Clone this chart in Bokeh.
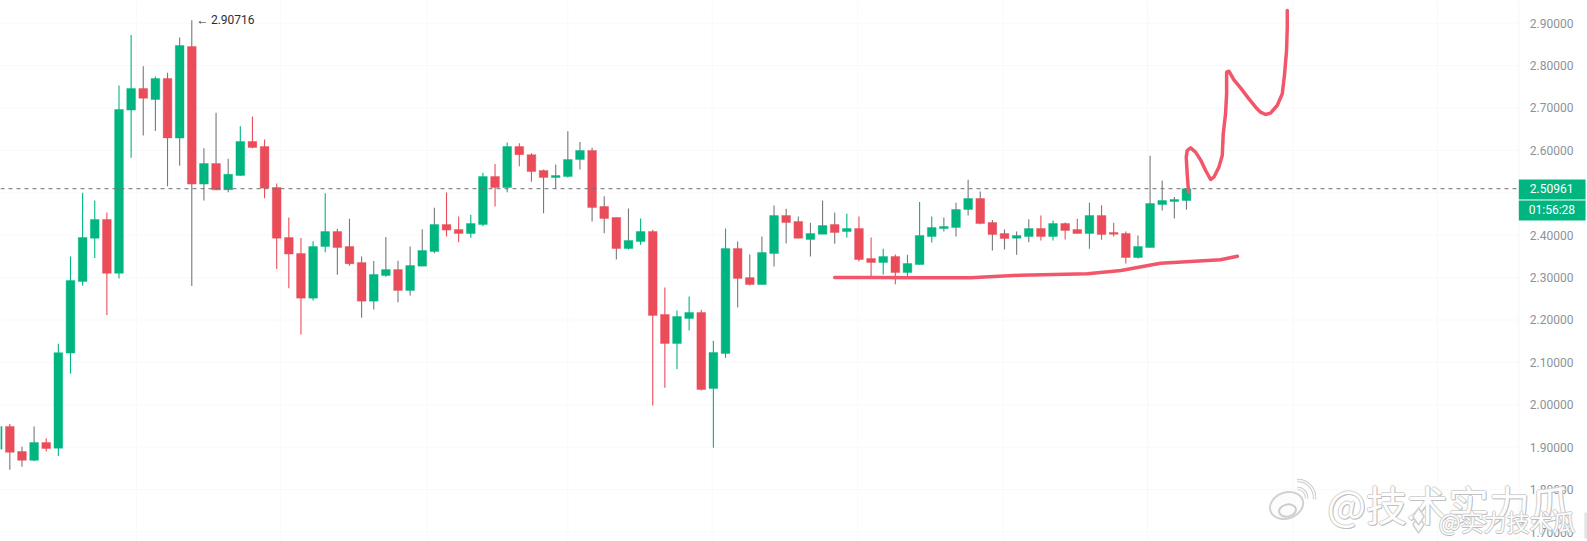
from bokeh.plotting import figure
from bokeh.embed import file_html
from bokeh.resources import INLINE
from bokeh.models import ColumnDataSource, Range1d
from bokeh.core.properties import value

G = "#01b581"; R = "#ea4c5a"; W = "#787878"; INK = "#f2566a"
candle_index = list(range(99))
body_top = [1.9488,1.949,1.890,1.911,1.911,2.123,2.293,2.3945,2.437,2.437,2.6965,2.746,2.746,2.7695,2.7695,2.8475,2.845,2.569,2.569,2.5435,2.621,2.621,2.609,2.5125,2.3945,2.357,2.3735,2.4085,2.4085,2.3735,2.3355,2.3073,2.319,2.319,2.3285,2.364,2.425,2.425,2.4135,2.4277,2.5385,2.5385,2.609,2.609,2.590,2.5526,2.5407,2.5786,2.5998,2.5998,2.4677,2.4417,2.3875,2.4087,2.4087,2.213,2.2083,2.2177,2.2177,2.1234,2.3687,2.3687,2.3,2.3592,2.4465,2.4465,2.4323,2.404,2.4228,2.4253,2.4158,2.4158,2.345,2.3497,2.3497,2.3333,2.3993,2.418,2.4205,2.4606,2.4865,2.4865,2.43,2.404,2.3993,2.4158,2.4158,2.4275,2.4275,2.4133,2.4464,2.4464,2.4063,2.404,2.3733,2.4747,2.4818,2.4843,2.50961]
body_bot = [1.8953,1.888,1.869,1.869,1.897,1.8977,2.122,2.291,2.393,2.310,2.310,2.695,2.723,2.72,2.6295,2.629,2.5205,2.5205,2.507,2.507,2.541,2.607,2.511,2.393,2.3555,2.2515,2.2515,2.3735,2.371,2.3325,2.2444,2.2444,2.305,2.2697,2.2697,2.327,2.3617,2.412,2.404,2.404,2.425,2.5125,2.5125,2.590,2.55,2.536,2.536,2.5385,2.5786,2.4653,2.4394,2.3686,2.3686,2.3852,2.2107,2.1446,2.1446,2.2036,2.0361,2.0385,2.121,2.2979,2.2837,2.2837,2.3569,2.43,2.393,2.39,2.4023,2.4063,2.4087,2.3426,2.3356,2.3356,2.312,2.312,2.3308,2.397,2.4158,2.418,2.4606,2.4275,2.4016,2.3922,2.393,2.397,2.397,2.397,2.411,2.404,2.404,2.4016,2.4023,2.3473,2.3473,2.3709,2.4723,2.4793,2.4818]
high = [1.955,1.955,1.901,1.949,1.921,2.144,2.350,2.500,2.482,2.4535,2.753,2.872,2.7985,2.774,2.783,2.866,2.90716,2.605,2.6885,2.580,2.657,2.68,2.6255,2.522,2.4415,2.3935,2.386,2.499,2.415,2.4385,2.35,2.339,2.3955,2.340,2.3734,2.414,2.465,2.5007,2.444,2.448,2.547,2.568,2.6187,2.617,2.593,2.555,2.5667,2.6454,2.62,2.606,2.492,2.4417,2.463,2.4394,2.413,2.2767,2.2224,2.2554,2.224,2.1509,2.4157,2.385,2.3545,2.397,2.47,2.4622,2.444,2.4291,2.4818,2.4535,2.4503,2.444,2.3945,2.3678,2.3545,2.3536,2.478,2.444,2.4417,2.4763,2.5305,2.503,2.436,2.4133,2.4087,2.4378,2.4463,2.4346,2.43,2.4386,2.4763,2.4708,2.4291,2.4087,2.3993,2.5871,2.529,2.4903,2.50961]
low = [1.88,1.847,1.854,1.867,1.890,1.879,2.073,2.281,2.3465,2.212,2.298,2.5825,2.635,2.646,2.5155,2.5635,2.280,2.482,2.506,2.501,2.540,2.605,2.487,2.3205,2.275,2.166,2.246,2.36,2.307,2.328,2.205,2.2247,2.302,2.242,2.258,2.327,2.3577,2.397,2.3836,2.3938,2.421,2.4677,2.5015,2.5628,2.526,2.452,2.509,2.536,2.555,2.4323,2.4048,2.3427,2.3663,2.3773,1.9984,2.04,2.0847,2.1752,2.0337,1.8985,2.1107,2.2295,2.2814,2.2837,2.3262,2.3804,2.392,2.3497,2.4023,2.3796,2.3945,2.3379,2.301,2.3073,2.2845,2.2986,2.3308,2.3827,2.4087,2.397,2.4464,2.426,2.3639,2.3663,2.3536,2.3835,2.3875,2.3875,2.39,2.404,2.3678,2.389,2.397,2.3333,2.345,2.3709,2.4583,2.4393,2.4598]
up = ("g r r g r g g g g r g g r g r g r g r g g r r r r r g g r r r g g r g g g r r g g r g r r r g g g r r r g g r r g g r g g r r g g r r g g r g r r g r g g g g g g r r r g g r g r r g r r r g g g g g").split()
wick = ("n n n n r g g g g r g g " "n n n n n n n n " "g r r r r r g g " "n n n n n n n n n " "r r g g r g r r " "n n n n n n n n " "g r r g g r g g " "n n n n n n n n n " "g r r g r g g g " "n n n n n n n n " "r g r r g r r r " "n n n n n").split()

ticks = [1.7,1.8,1.9,2.0,2.1,2.2,2.3,2.4,2.6,2.7,2.8,2.9]
tick_labels = ["1.70000","1.80000","1.90000","2.00000","2.10000","2.20000","2.30000","2.40000","2.60000","2.70000","2.80000","2.90000"]
grid_y = [1.7,1.8,1.9,2.0,2.1,2.2,2.3,2.4,2.5,2.6,2.7,2.8,2.9]
grid_x = [11.44,23.3,35.4,47.0,58.9,70.9,82.9,94.8,106.8,118.7]
last_price = 2.50961
hi_price = 2.90716
countdown = "01:56:28"

# hand-drawn strokes on the picture, as candle position / price
base_x = [69,72,76,80.2,84.3,89.84,92.6,95.86,100.8,102.2]
base_y = [2.3002,2.3002,2.2998,2.2995,2.3056,2.3089,2.3167,2.334,2.3419,2.3504]
jump_x = [98.17,98.06,97.98,98.06,98.34,98.75,99.16,99.58,99.99,100.26,100.67,100.95,101.03,101.22,101.31,101.31,101.5,101.91,102.46,103.15,103.7,104.11,104.52,104.93,105.48,105.9,106.09,106.25,106.31,106.31]
jump_y = [2.5015,2.5447,2.584,2.5997,2.606,2.5958,2.5777,2.5526,2.5313,2.5368,2.5604,2.5879,2.639,2.6862,2.7334,2.7845,2.7868,2.7664,2.7475,2.7216,2.7019,2.6901,2.6846,2.6878,2.7059,2.7334,2.7805,2.8356,2.8906,2.9299]

X_L, X_R, Y_T, Y_B = 0.2308, 131.06, 2.9535, 1.6776
AXIS_X = 125.4
TAG_R = 130.9

p = figure(width=1587, height=541, output_backend="svg", toolbar_location=None,
           x_range=Range1d(X_L, X_R), y_range=Range1d(Y_B, Y_T),
           min_border=0, outline_line_color=None, background_fill_color="white",
           x_axis_location=None, y_axis_location=None)
p.grid.visible = False

GRID = "#f9f9f9"
p.segment(grid_x, [Y_B]*len(grid_x), grid_x, [Y_T]*len(grid_x), line_color=GRID, line_width=1)
p.segment([X_L]*len(grid_y), grid_y, [AXIS_X]*len(grid_y), grid_y, line_color=GRID, line_width=1)
p.segment([AXIS_X], [Y_B], [AXIS_X], [Y_T], line_color="#f5f5f5", line_width=1)

col = {"g": G, "r": R, "n": W}
src = ColumnDataSource(dict(x=candle_index, top=body_top, bot=body_bot, hi=high, lo=low,
                            bc=[col[u] for u in up], wc=[col[w] for w in wick]))
p.segment("x", "hi", "x", "lo", source=src, line_color="wc", line_width=1.1)
p.vbar(x="x", top="top", bottom="bot", width=0.72, source=src, fill_color="bc", line_color="bc", line_width=0.4)

p.line([X_L, AXIS_X], [last_price, last_price], line_color="#707070", line_dash="4 4", line_width=1)

font = value("Roboto")
lab_x = 126.3
p.text([lab_x]*len(ticks), ticks, tick_labels, text_font=font, text_font_size="12px",
       text_color="#8d9298", text_baseline="middle")

# last-price tag
p.quad(left=[AXIS_X], right=[TAG_R], top=[2.5313], bottom=[2.4346], fill_color=G, line_color=None)
p.segment([AXIS_X], [2.4830], [TAG_R], [2.4830], line_color="white", line_width=1)
p.text([lab_x], [last_price], ["%.5f" % last_price], text_font=font, text_font_size="12px",
       text_color="white", text_baseline="middle")
p.text([lab_x - 0.08], [2.4589], [countdown], text_font=font, text_font_size="12px",
       text_color="white", text_baseline="middle")

p.line(base_x, base_y, line_color=INK, line_width=3.5, line_cap="round", line_join="round")
p.line(jump_x, jump_y, line_color=INK, line_width=3.5, line_cap="round", line_join="round")

p.text([16.39], [hi_price], ["\u2190\u2009%.5f" % hi_price], text_font=font, text_font_size="12px",
       text_color="#2a2e39", text_baseline="middle")

# Weibo-style logo of the watermark
p.ellipse([106.25], [1.7625], width=34, height=26, width_units="screen", height_units="screen", angle=0.35,
          fill_color="#fcfcfc", line_color="#d2d2d2", line_width=2)
p.ellipse([106.33], [1.7507], width=17, height=12, width_units="screen", height_units="screen", angle=0.2,
          fill_color="#fcfcfc", line_color="#cdcdcd", line_width=2)
p.arc([107.16, 107.16], [1.7813, 1.7813], radius=[9, 17], radius_units="screen", start_angle=-0.1, end_angle=1.6,
      line_color="#cccccc", line_width=3.5)
p.arc([107.16, 107.16], [1.7813, 1.7813], radius=[9, 17], radius_units="screen", start_angle=-0.1, end_angle=1.6,
      line_color="#fbfbfb", line_width=1.5)

# watermark text
wm = value("Noto Sans CJK SC")
for dx, dy, c in [(-1, 0, "#d4d4d4"), (1, 0, "#d4d4d4"), (0, -1, "#d4d4d4"), (0, 1, "#c8c8c8"), (1, 1, "#c0c0c0"), (0, 0, "#fdfdfd")]:
    p.text([109.6], [1.7684], ["@\u6280\u672f\u5b9e\u529b\u74dc"], x_offset=dx, y_offset=dy, text_font=wm,
           text_font_size="41px", text_color=c, text_baseline="middle")

# small diamond mark
p.scatter([117.13], [1.7177], marker="diamond", size=17, fill_color="#fdfdfd", line_color="#d0d0d0", line_width=1.5)
p.scatter([117.13], [1.7365], marker="diamond", size=17, fill_color="#fdfdfd", line_color="#d0d0d0", line_width=1.5)

for dx, dy, c in [(-1, 0, "#cfcfcf"), (1, 0, "#cfcfcf"), (0, -1, "#cfcfcf"), (0, 1, "#bcbcbc"), (0, 0, "#fdfdfd")]:
    p.text([118.8], [1.7271], ["@\u5b9e\u529b\u6280\u672f\u74dc"], x_offset=dx, y_offset=dy, text_font=wm,
           text_font_size="23px", text_color=c, text_baseline="middle")

# grey sliver at the bottom-right corner
p.quad(left=[130.8], right=[X_R], top=[1.7460], bottom=[1.6846], fill_color="#e4e4e4", line_color=None)

out = file_html(p, INLINE)
open("out.html", "w").write(out)
